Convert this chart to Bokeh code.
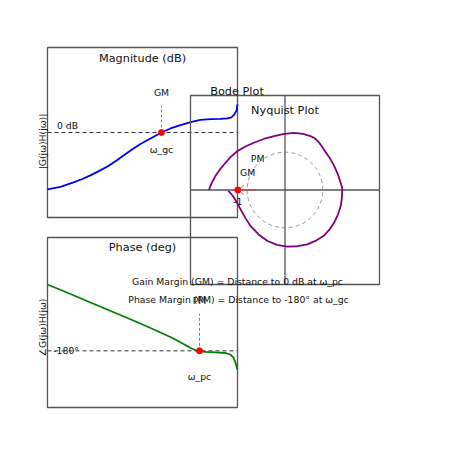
import math
from bokeh.plotting import figure
from bokeh.models import Range1d
from bokeh.embed import file_html
from bokeh.resources import INLINE
from bokeh.core.properties import value

# ---------------- data ----------------
# Bode magnitude (normalised frequency 0..10, dB)
mag_w = [0.00, 0.68, 1.37, 1.80, 2.26, 2.70, 3.16, 3.58, 4.00, 4.45, 4.89, 5.42,
         6.00, 6.47, 7.00, 7.53, 8.05, 8.58, 9.11, 9.47, 9.68, 9.84, 9.95, 10.0]
mag_db = [-26.8, -25.6, -23.5, -22.0, -20.2, -18.2, -16.0, -13.5, -10.8, -8.0,
          -5.4, -2.8, 0.0, 1.9, 3.5, 4.9, 5.9, 6.3, 6.4, 6.6, 7.1, 8.5, 10.4, 13.2]
# Bode phase (deg)
phase_w = [0.00, 1.21, 2.26, 3.58, 4.89, 5.95, 6.63, 7.16, 7.53, 7.89, 8.32,
           8.84, 9.37, 9.63, 9.79, 9.89, 10.0]
phase_deg = [-109.8, -119.8, -128.8, -139.9, -151.1, -160.6, -166.9, -172.8,
             -177.0, -180.2, -181.2, -181.6, -182.3, -183.9, -187.1, -192.4, -199.8]
# Nyquist curve
nyq_re = [-1.61, -1.55, -1.47, -1.38, -1.29, -1.16, -1.01, -0.84, -0.66, -0.45,
          -0.23, -0.02, 0.19, 0.38, 0.54, 0.62, 0.70, 0.76, 0.82, 0.94, 1.04, 1.12, 1.18,
          1.21, 1.21, 1.20, 1.18, 1.12, 1.04, 0.94, 0.82, 0.66, 0.47, 0.26, 0.05,
          -0.17, -0.37, -0.56, -0.73, -0.84, -0.94, -1.01, -1.08, -1.14, -1.20]
nyq_im = [0.00, 0.15, 0.30, 0.43, 0.54, 0.69, 0.82, 0.92, 1.00, 1.08,
          1.14, 1.19, 1.21, 1.19, 1.14, 1.10, 1.03, 0.95, 0.86, 0.69, 0.51, 0.33, 0.15,
          0.04, -0.06, -0.20, -0.34, -0.52, -0.69, -0.84, -0.97, -1.07, -1.15, -1.19, -1.20,
          -1.16, -1.08, -0.94, -0.76, -0.59, -0.41, -0.28, -0.16, -0.08, -0.02]
circle_r = 0.8
w_gc = 6.0     # gain crossover
w_pc = 8.0     # phase crossover
crit_re, crit_im = -1.0, 0.0

FONT = value("DejaVu Sans")
SPINE = "#555555"

p = figure(width=466, height=466, output_backend="svg", toolbar_location=None,
           x_range=Range1d(0, 466), y_range=Range1d(466, 0),
           x_axis_type=None, y_axis_type=None, min_border=0,
           outline_line_color=None, background_fill_color="white")
p.grid.visible = False

def txt(g, x, y, s, size="9.3px", align="center", baseline="middle", angle=0.0):
    g.text(x=[x], y=[y], text=[s], text_font=FONT, text_font_size=value(size),
           text_align=align, text_baseline=baseline, text_color="#111111", angle=angle)

# ---------------- magnitude panel ----------------
mag = p.subplot(x_source=Range1d(0, 10), y_source=Range1d(-40, 40),
                x_target=Range1d(47, 237), y_target=Range1d(217, 47))
mag.quad(left=[0], right=[10], bottom=[-40], top=[40], fill_color=None,
         line_color=SPINE, line_width=1.3)
mag.line(x=[0, 10], y=[0, 0], line_color="#333333", line_dash="4 3", line_width=1)
mag.line(x=mag_w, y=mag_db, line_color="#0000ee", line_width=1.8, line_join="round")
mag.line(x=[w_gc, w_gc], y=[0, 12.7], line_color="red", line_alpha=0.7,
         line_dash="3 2", line_width=1)
mag.scatter(x=[w_gc], y=[0], size=6, fill_color="red", line_color="red")
txt(mag, w_gc, 19, "GM")
txt(mag, w_gc, -8, "ω_gc")
txt(mag, 0.5, 3.3, "0 dB", align="left")

# ---------------- phase panel ----------------
ph = p.subplot(x_source=Range1d(0, 10), y_source=Range1d(-240, -60),
               x_target=Range1d(47, 237), y_target=Range1d(407, 237))
ph.quad(left=[0], right=[10], bottom=[-240], top=[-60], fill_color=None,
        line_color=SPINE, line_width=1.3)
ph.line(x=[0, 10], y=[-180, -180], line_color="#333333", line_dash="4 3", line_width=1)
ph.line(x=phase_w, y=phase_deg, line_color="green", line_width=1.8, line_join="round")
ph.line(x=[w_pc, w_pc], y=[-180, -140.5], line_color="red", line_alpha=0.7,
        line_dash="3 2", line_width=1)
ph.scatter(x=[w_pc], y=[-180], size=6, fill_color="red", line_color="red")
txt(ph, w_pc, -126.7, "PM")
txt(ph, w_pc, -207.2, "ω_pc")
txt(ph, 0.3, -180, "-180°", align="left")

# ---------------- nyquist panel ----------------
nq = p.subplot(x_source=Range1d(-2, 2), y_source=Range1d(-2, 2),
               x_target=Range1d(190, 379), y_target=Range1d(284, 95))
nq.quad(left=[-2], right=[2], bottom=[-2], top=[2], fill_color=None,
        line_color=SPINE, line_width=1.3)
nq.line(x=[-2, 2], y=[0, 0], line_color=SPINE, line_width=1.3)
nq.line(x=[0, 0], y=[-2, 2], line_color=SPINE, line_width=1.3)
th = [2 * math.pi * i / 120 for i in range(121)]
nq.line(x=[circle_r * math.cos(t) for t in th], y=[circle_r * math.sin(t) for t in th],
        line_color="gray", line_alpha=0.8, line_dash="4 3", line_width=1)
nq.line(x=nyq_re, y=nyq_im, line_color="purple", line_width=1.8, line_join="round")
nq.line(x=[crit_re, crit_re + 0.4], y=[0, 0], line_color="red", line_alpha=0.7,
        line_dash="3 2", line_width=1)
nq.multi_line(xs=[[crit_re + 0.13, crit_re, crit_re + 0.13]], ys=[[0.1, 0, -0.1]],
              line_color="red", line_alpha=0.7, line_width=1)
nq.scatter(x=[crit_re], y=[crit_im], size=6, fill_color="red", line_color="red")
txt(nq, -0.58, 0.67, "PM")
txt(nq, -0.79, 0.37, "GM")
txt(nq, -1.0, -0.25, "-1")

# ---------------- titles & labels (page coordinates) ----------------
txt(p, 142, 58, "Magnitude (dB)", size="11.3px")
txt(p, 142, 247, "Phase (deg)", size="11.3px")
txt(p, 236.5, 91, "Bode Plot", size="11.3px")
txt(p, 284.5, 110, "Nyquist Plot", size="11.3px")
txt(p, 42, 141, "|G(jω)H(jω)|", angle=math.pi / 2)
txt(p, 42, 327, "∠G(jω)H(jω)", angle=math.pi / 2)
txt(p, 237, 281, "Gain Margin (GM) = Distance to 0 dB at ω_pc")
txt(p, 238, 299, "Phase Margin (PM) = Distance to -180° at ω_gc")

open("out.html", "w").write(file_html(p, INLINE))
